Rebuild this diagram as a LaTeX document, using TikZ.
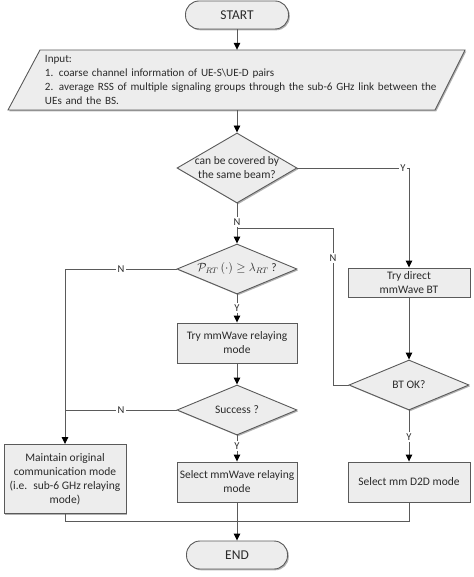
\documentclass[tikz,border=0pt]{standalone}
\usepackage{fontspec}
\setmainfont{Carlito}
\usetikzlibrary{shapes.geometric,arrows.meta,shadows,backgrounds}
\definecolor{lc}{HTML}{5A5A5A}
\definecolor{bg}{HTML}{EDEDED}
\definecolor{tc}{HTML}{2A2A2A}
\newcommand\myfs{\fontsize{11.5bp}{14bp}\selectfont}
\newcommand\myifs{\fontsize{11.1bp}{14bp}\selectfont}
\newcommand\mylfs{\fontsize{10.5bp}{12bp}\selectfont}
\newcommand\mytfs{\fontsize{13.5bp}{15bp}\selectfont}
\begin{document}
\begin{tikzpicture}[x=1bp,y=-1bp,
  shd/.style={drop shadow={shadow xshift=1.3bp, shadow yshift=-1.3bp, fill=black, opacity=0.3}},
  box/.style={rectangle, draw=lc, fill=bg, line width=0.9bp, inner sep=0pt, align=center, font=\myfs, text=tc, shd},
  dia/.style={diamond, draw=lc, fill=bg, line width=0.9bp, inner sep=0pt, shd},
  txt/.style={align=center, font=\myfs, text=tc, inner sep=0pt},
  term/.style={rectangle, rounded corners=13.5bp, draw=lc, fill=bg, line width=0.9bp, inner sep=0pt, font=\mytfs, text=tc, shd},
  lbl/.style={fill=white, inner sep=1.2bp, font=\mylfs, text=tc},
  ln/.style={draw=lc, line width=0.9bp},
  arr/.style={ln, -{Triangle[length=7bp,width=6.5bp,color=black]}}
]
\useasboundingbox (0,0) rectangle (474,577);

\node[term, minimum width=103bp, minimum height=28bp] (start) at (237,15) {START};

\node[txt, font=\myifs, text width=400bp, align=left, minimum height=60bp, anchor=center] (inp) at (245,80)
  {Input:\\1. coarse channel information of UE-S\textbackslash UE-D pairs\\2. average RSS of multiple signaling groups through the sub-6 GHz link between the\\UEs and the BS.};
\begin{scope}[on background layer]
  \draw[ln, fill=bg, shd] (40,50) -- (465,50) -- (435,110) -- (8,110) -- cycle;
\end{scope}

\node[dia, minimum width=120bp, minimum height=70bp,
  label={[txt]center:{can be covered by\\the same beam?}}] (d1) at (237,168) {};
\node[dia, minimum width=120bp, minimum height=50bp,
  label={[txt]center:{$\mathcal{P}_{RT}\left(\cdot\right)\geq\lambda_{RT}$ ?}}] (d2) at (237,269) {};
\node[box, minimum width=120bp, minimum height=40bp] (tr) at (237,343) {Try mmWave relaying\\mode};
\node[dia, minimum width=120bp, minimum height=50bp,
  label={[txt]center:{Success ?}}] (s) at (237,410) {};
\node[box, minimum width=120bp, minimum height=40bp] (sr) at (237,482) {Select mmWave relaying\\mode};
\node[box, minimum width=122bp, minimum height=69bp] (m) at (65,479)
  {Maintain original\\communication mode\\(i.e.~ sub-6 GHz relaying\\mode)};
\node[box, minimum width=122bp, minimum height=29bp] (td) at (409,282.5) {Try direct\\mmWave BT};
\node[dia, minimum width=120bp, minimum height=50bp,
  label={[txt]center:{BT OK?}}] (bt) at (409,385) {};
\node[box, minimum width=122bp, minimum height=40bp] (sd) at (409,482) {Select mm D2D mode};
\node[term, minimum width=101bp, minimum height=28bp] (end) at (237,555) {END};

\coordinate (j1) at (237,228);
\coordinate (j2) at (333,228);
\coordinate (jb) at (237,521);

\draw[arr] (start.south) -- (start.south |- inp.north);
\draw[arr] (d1.north |- inp.south) -- (d1.north);
\draw[arr] (d1.east) -| (td.north);
\draw[arr] (d1.south) -- (d2.north);
\draw[ln] (bt.west) -| (j2) -- (j1);
\draw[arr] (d2.west) -| (m.north);
\draw[ln] (s.west) -- (s.west -| m.north);
\draw[arr] (d2.south) -- (tr.north);
\draw[arr] (tr.south) -- (s.north);
\draw[arr] (s.south) -- (sr.north);
\draw[arr] (td.south) -- (bt.north);
\draw[arr] (bt.south) -- (sd.north);
\draw[ln] (m.south) |- (jb);
\draw[ln] (sd.south) |- (jb);
\draw[arr] (sr.south) -- (end.north);

\node[lbl] (ly1) at (403,168) {Y};
\node[lbl] (ln1) at (237,222) {N};
\node[lbl] (ln2) at (333,258) {N};
\node[lbl] (ln3) at (121,269) {N};
\node[lbl] (ln4) at (121,410) {N};
\node[lbl] (ly2) at (237,308) {Y};
\node[lbl] (ly3) at (237,446) {Y};
\node[lbl] (ly4) at (409,437) {Y};
\end{tikzpicture}
\end{document}
